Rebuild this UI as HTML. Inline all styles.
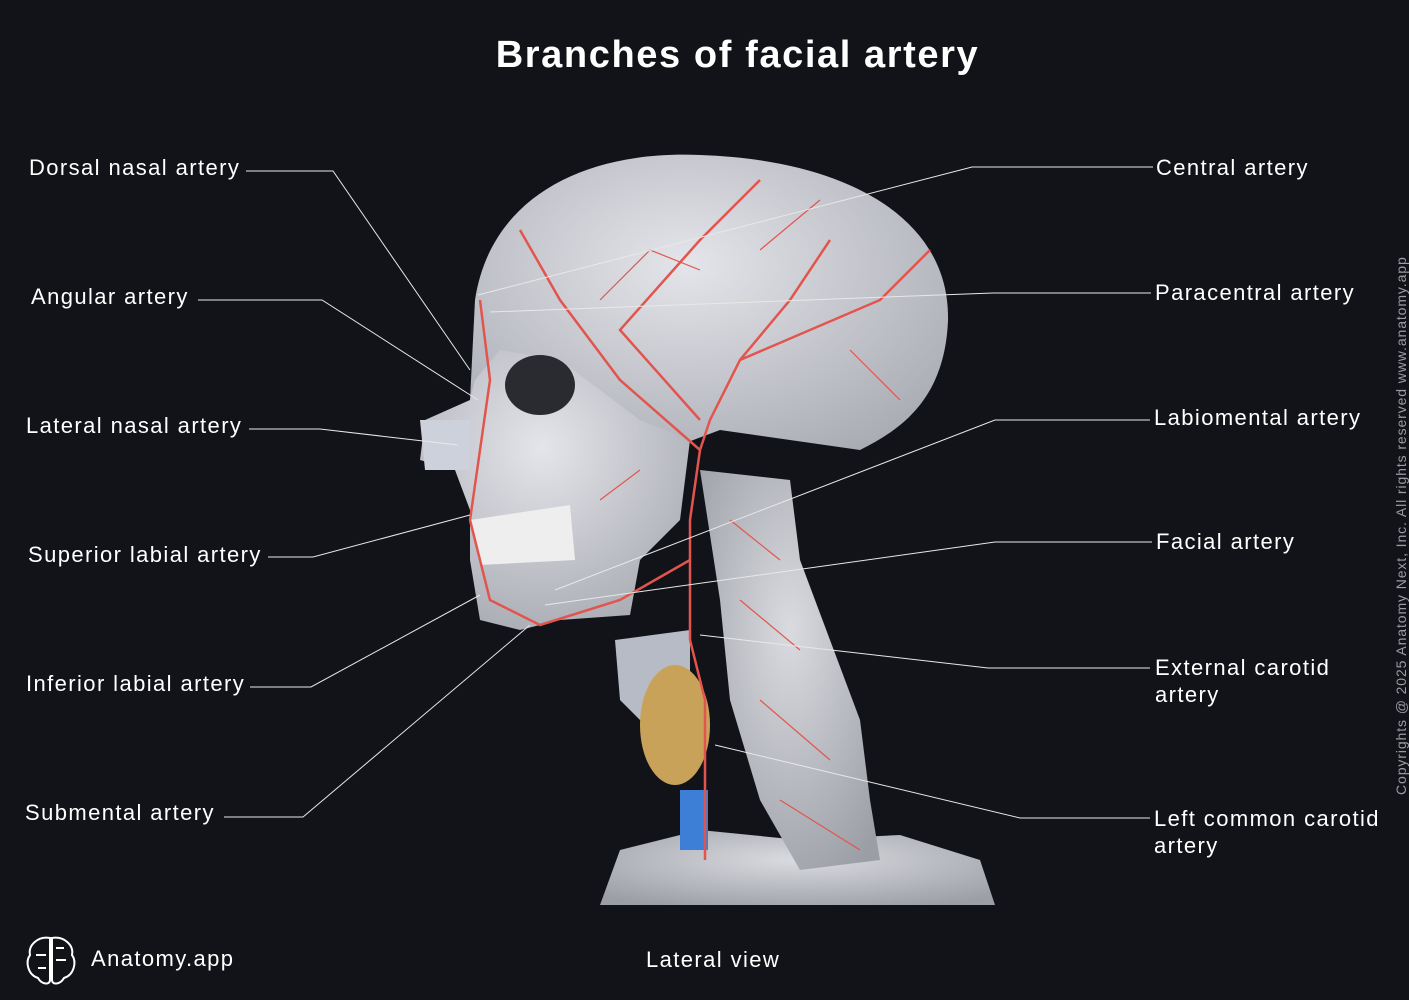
<!DOCTYPE html>
<html><head><meta charset="utf-8"><style>
html,body{margin:0;padding:0;background:#111318;}
body{width:1409px;height:1000px;overflow:hidden;position:relative;font-family:"Liberation Sans",sans-serif;}
.t{position:absolute;color:#fff;font-size:22px;letter-spacing:1.4px;white-space:nowrap;}
</style></head><body>
<svg width="1409" height="1000" style="position:absolute;left:0;top:0">
<defs>
<radialGradient id="sk" cx="0.45" cy="0.35" r="0.7"><stop offset="0" stop-color="#e4e5ea"/><stop offset="1" stop-color="#a9abb3"/></radialGradient>
<radialGradient id="bn" cx="0.5" cy="0.4" r="0.7"><stop offset="0" stop-color="#d9dbe0"/><stop offset="1" stop-color="#9c9ea6"/></radialGradient>
</defs>
<path d="M600,905 L620,850 L700,830 L800,840 L900,835 L980,860 L995,905 Z" fill="url(#bn)"/>
<path d="M700,470 L790,480 L800,560 L830,640 L860,720 L870,800 L880,860 L800,870 L760,800 L730,700 L720,600 Z" fill="url(#bn)"/>
<path d="M615,640 L690,630 L690,770 L650,730 L620,700 Z" fill="#b7bbc6"/>
<ellipse cx="675" cy="725" rx="35" ry="60" fill="#c9a25a"/>
<rect x="680" y="790" width="28" height="60" fill="#3d7fd6"/>
<path d="M475,300 C490,200 580,150 700,155 C850,160 950,220 948,320 C945,400 900,430 860,450 L720,430 L640,460 L560,470 L500,450 L470,400 Z" fill="url(#sk)"/>
<path d="M475,380 L500,350 L560,360 L640,420 L690,440 L680,520 L640,560 L630,615 L560,620 L520,630 L480,620 L470,560 L470,510 L455,470 L420,460 L425,420 L470,400 Z" fill="url(#sk)"/>
<ellipse cx="540" cy="385" rx="35" ry="30" fill="#2a2b30"/>
<path d="M420,420 L470,420 L470,470 L425,470 Z" fill="#cdd1dc"/>
<path d="M470,520 L570,505 L575,560 L480,565 Z" fill="#eeeeee"/>
<g stroke="#e2554e" fill="none" stroke-width="2.5">
<path d="M690,640 L690,520 L700,450 L710,420 L740,360 L790,300 L830,240"/>
<path d="M705,860 L705,700 L690,640"/>
<path d="M700,450 L620,380 L560,300 L520,230"/>
<path d="M480,300 L490,380 L480,450 L470,520 L490,600 L540,625 L620,600 L690,560"/>
<path d="M740,360 L880,300 L930,250"/>
<path d="M700,420 L620,330 L700,240 L760,180"/>
</g>
<g stroke="#e2554e" fill="none" stroke-width="1.2">
<path d="M600,300 L650,250 L700,270 M760,250 L820,200 M850,350 L900,400 M640,470 L600,500 M730,520 L780,560 M740,600 L800,650 M760,700 L830,760 M780,800 L860,850"/>
</g>
<g stroke="#e8e8e8" fill="none" stroke-width="1">
<polyline points="246,171 333,171 470,370"/>
<polyline points="198,300 322,300 478,400"/>
<polyline points="249,429 320,429 458,445"/>
<polyline points="268,557 313,557 470,515"/>
<polyline points="250,687 311,687 480,595"/>
<polyline points="224,817 303,817 530,625"/>
<polyline points="1153,167 972,167 478,295"/>
<polyline points="1151,293 993,293 490,312"/>
<polyline points="1150,420 995,420 555,590"/>
<polyline points="1152,542 995,542 545,605"/>
<polyline points="1150,668 988,668 700,635"/>
<polyline points="1150,818 1020,818 715,745"/>
</g>
<g stroke="#fff" fill="none" stroke-width="2">
<path d="M50,938 C38,936 28,945 30,955 C25,962 28,975 38,978 C42,985 50,985 50,980 Z"/>
<path d="M52,938 C64,936 74,945 72,955 C77,962 74,975 64,978 C60,985 52,985 52,980 Z"/>
<path d="M36,955 L46,955 M56,960 L66,960 M38,968 L46,968 M56,948 L64,948"/>
</g>
</svg>
<div style="position:absolute;left:0;width:1475px;top:34px;text-align:center;color:#fff;font-size:38px;font-weight:bold;letter-spacing:1.6px;">Branches of facial artery</div>
<div class="t" style="left:29px;top:155px">Dorsal nasal artery</div>
<div class="t" style="left:31px;top:284px">Angular artery</div>
<div class="t" style="left:26px;top:413px">Lateral nasal artery</div>
<div class="t" style="left:28px;top:542px">Superior labial artery</div>
<div class="t" style="left:26px;top:671px">Inferior labial artery</div>
<div class="t" style="left:25px;top:800px">Submental artery</div>
<div class="t" style="left:1156px;top:155px">Central artery</div>
<div class="t" style="left:1155px;top:280px">Paracentral artery</div>
<div class="t" style="left:1154px;top:405px">Labiomental artery</div>
<div class="t" style="left:1156px;top:529px">Facial artery</div>
<div class="t" style="left:1155px;top:654px;line-height:27px">External carotid<br>artery</div>
<div class="t" style="left:1154px;top:805px;line-height:27px">Left common carotid<br>artery</div>
<div class="t" style="left:91px;top:946px">Anatomy.app</div>
<div class="t" style="left:646px;top:947px">Lateral view</div>
<div style="position:absolute;left:1393px;top:795px;transform:rotate(-90deg);transform-origin:0 0;color:#9a9ca3;font-size:14px;letter-spacing:0.9px;white-space:nowrap;">Copyrights @ 2025 Anatomy Next, Inc. All rights reserved www.anatomy.app</div>
</body></html>
